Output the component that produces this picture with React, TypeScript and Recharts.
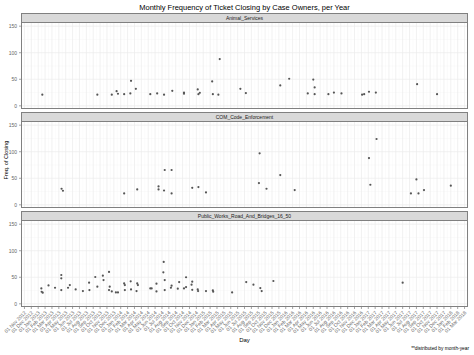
import React from "react";
import {
  ScatterChart,
  Scatter,
  XAxis,
  YAxis,
  ReferenceLine,
} from "recharts";

// tick labels, one per month (index 0 = Nov 2012)
const MONTH_LABELS = [
  "01 Nov 2012", "01 Dec 2012",
  "01 Jan 2013", "01 Feb 2013", "01 Mar 2013", "01 Apr 2013", "01 May 2013", "01 Jun 2013",
  "01 Jul 2013", "01 Aug 2013", "01 Sep 2013", "01 Oct 2013", "01 Nov 2013", "01 Dec 2013",
  "01 Jan 2014", "01 Feb 2014", "01 Mar 2014", "01 Apr 2014", "01 May 2014", "01 Jun 2014",
  "01 Jul 2014", "01 Aug 2014", "01 Sep 2014", "01 Oct 2014", "01 Nov 2014", "01 Dec 2014",
  "01 Jan 2015", "01 Feb 2015", "01 Mar 2015", "01 Apr 2015", "01 May 2015", "01 Jun 2015",
  "01 Jul 2015", "01 Aug 2015", "01 Sep 2015", "01 Oct 2015", "01 Nov 2015", "01 Dec 2015",
  "01 Jan 2016", "01 Feb 2016", "01 Mar 2016", "01 Apr 2016", "01 May 2016", "01 Jun 2016",
  "01 Jul 2016", "01 Aug 2016", "01 Sep 2016", "01 Oct 2016", "01 Nov 2016", "01 Dec 2016",
  "01 Jan 2017", "01 Feb 2017", "01 Mar 2017", "01 Apr 2017", "01 May 2017", "01 Jun 2017",
  "01 Jul 2017", "01 Aug 2017", "01 Sep 2017", "01 Oct 2017", "01 Nov 2017", "01 Dec 2017",
  "01 Jan 2018", "01 Feb 2018", "01 Mar 2018",
];
const MONTH_TICKS = MONTH_LABELS.map((_, i) => i);
const MINOR_X = MONTH_TICKS.map((i) => i + 0.5);
const Y_TICKS = [0, 50, 100, 150];
const MINOR_Y = [25, 75, 125];

// m = months since Nov 2012, v = tickets closed
const animalServices = [
  { m: 2.6, v: 21 }, { m: 10.6, v: 21 }, { m: 12.7, v: 21 }, { m: 13.4, v: 27.6 },
  { m: 13.6, v: 22.7 }, { m: 14.5, v: 22 }, { m: 15.4, v: 23.3 }, { m: 15.5, v: 47 },
  { m: 16.2, v: 32 }, { m: 18.3, v: 22 }, { m: 19.3, v: 23.3 }, { m: 20.3, v: 21 },
  { m: 21.5, v: 28.3 }, { m: 23.2, v: 25 }, { m: 23.2, v: 22.7 }, { m: 25.2, v: 30.8 },
  { m: 25.3, v: 22 }, { m: 25.5, v: 24.5 }, { m: 27.3, v: 46 }, { m: 27.4, v: 22 },
  { m: 28.2, v: 21 }, { m: 28.4, v: 88 }, { m: 31.4, v: 32 }, { m: 32.2, v: 24 },
  { m: 37.2, v: 38.4 }, { m: 38.5, v: 51 }, { m: 41.2, v: 23.3 }, { m: 42, v: 49.5 },
  { m: 42.2, v: 34.6 }, { m: 42.2, v: 22 }, { m: 44.2, v: 22 }, { m: 45, v: 25 },
  { m: 46.1, v: 23.3 }, { m: 49.1, v: 21 }, { m: 49.4, v: 22 }, { m: 50.1, v: 26.5 },
  { m: 51.1, v: 25 }, { m: 57.1, v: 40.8 }, { m: 60, v: 22 },
];

const codeEnforcement = [
  { m: 5.4, v: 30.3 }, { m: 5.6, v: 26.5 }, { m: 14.5, v: 21.4 }, { m: 16.4, v: 29 },
  { m: 19.5, v: 34.6 }, { m: 19.5, v: 29 }, { m: 20.3, v: 27 }, { m: 20.4, v: 65.6 },
  { m: 21.4, v: 65.6 }, { m: 21.4, v: 21.4 }, { m: 24.4, v: 32 }, { m: 25.3, v: 33.4 },
  { m: 26.4, v: 23.3 }, { m: 34.2, v: 97 }, { m: 34.1, v: 41 }, { m: 35.2, v: 30.3 },
  { m: 37.2, v: 56 }, { m: 39.3, v: 27.7 }, { m: 50.1, v: 88 }, { m: 51.2, v: 124 },
  { m: 50.3, v: 37.8 }, { m: 56.2, v: 21.4 }, { m: 57, v: 47.8 }, { m: 57.3, v: 21.4 },
  { m: 58.1, v: 27.7 }, { m: 62, v: 36 },
];

const publicWorks = [
  { m: 2.46, v: 29 }, { m: 2.5, v: 22.7 }, { m: 2.66, v: 20.9 }, { m: 3.5, v: 34.7 },
  { m: 4.45, v: 30.3 }, { m: 5.36, v: 54.3 }, { m: 5.36, v: 48 }, { m: 5.36, v: 25.8 },
  { m: 6.34, v: 30.3 }, { m: 6.6, v: 35.3 }, { m: 7.45, v: 27.1 }, { m: 8.5, v: 24 },
  { m: 9.4, v: 39.8 }, { m: 9.45, v: 25.8 }, { m: 10.3, v: 50.5 }, { m: 10.6, v: 32.3 },
  { m: 11.4, v: 53 }, { m: 11.5, v: 44.8 }, { m: 12.3, v: 60 }, { m: 12.4, v: 32.3 },
  { m: 12.3, v: 25.8 }, { m: 12.7, v: 23.3 }, { m: 13.3, v: 21.4 }, { m: 13.6, v: 21.4 },
  { m: 14.5, v: 38.5 }, { m: 14.6, v: 35.3 }, { m: 14.6, v: 25.8 }, { m: 15.45, v: 42.3 },
  { m: 15.5, v: 27.1 }, { m: 16.4, v: 38.5 }, { m: 16.5, v: 35.3 }, { m: 16.3, v: 24 },
  { m: 18.3, v: 29 }, { m: 18.5, v: 29 }, { m: 19.2, v: 38 }, { m: 19.2, v: 23.3 },
  { m: 20.2, v: 59.4 }, { m: 20.25, v: 79 }, { m: 20.4, v: 44.8 }, { m: 20.4, v: 25.8 },
  { m: 21.3, v: 30.3 }, { m: 21.4, v: 34.2 }, { m: 22.3, v: 28.5 }, { m: 22.5, v: 41 },
  { m: 23.2, v: 29 }, { m: 23.5, v: 50 }, { m: 23.5, v: 31.6 }, { m: 24.3, v: 36 },
  { m: 24.4, v: 41.7 }, { m: 24.4, v: 26.4 }, { m: 25.2, v: 27.1 }, { m: 25.25, v: 24 },
  { m: 26.4, v: 24 }, { m: 27.4, v: 25.2 }, { m: 27.45, v: 22.7 }, { m: 30.2, v: 21.4 },
  { m: 32.25, v: 41 }, { m: 33.3, v: 36 }, { m: 34.3, v: 29.7 }, { m: 34.5, v: 24 },
  { m: 36.2, v: 43 }, { m: 55, v: 39.8 },
];

const FACETS = ["Animal_Services", "COM_Code_Enforcement", "Public_Works_Road_And_Bridges_16_50"];
const FACET_DATA = [animalServices, codeEnforcement, publicWorks];

const FONT = "'Liberation Sans', Arial, sans-serif";
const PLOT_LEFT = 21;
const PLOT_RIGHT = 468;
const STRIP_TOPS = [13, 112, 211];
const STRIP_H = 10;
const PLOT_H = 86;
const X_AXIS_H = 40;

const Dot = (props: any) => <circle cx={props.cx} cy={props.cy} r={1.1} fill="#555555" />;

const XTick = ({ x, y, payload }: any) => (
  <g transform={`translate(${x},${y})`}>
    <text
      x={0}
      y={0}
      dy={3}
      transform="rotate(-45)"
      textAnchor="end"
      fontSize={5}
      fill="#666666"
      fontFamily={FONT}
    >
      {MONTH_LABELS[payload.value]}
    </text>
  </g>
);

const Panel = ({ idx }: { idx: number }) => {
  const last = idx === FACETS.length - 1;
  const top = STRIP_TOPS[idx] + STRIP_H;
  const h = PLOT_H + (last ? X_AXIS_H : 0);
  return (
    <>
      <div
        style={{
          position: "absolute",
          left: PLOT_LEFT,
          top: STRIP_TOPS[idx],
          width: PLOT_RIGHT - PLOT_LEFT,
          height: STRIP_H,
          boxSizing: "border-box",
          background: "#d9d9d9",
          border: "1px solid #808080",
          fontSize: 5,
          lineHeight: `${STRIP_H - 2}px`,
          textAlign: "center",
          color: "#1a1a1a",
        }}
      >
        {FACETS[idx]}
      </div>
      <div style={{ position: "absolute", left: 0, top }}>
        <ScatterChart width={474} height={h} margin={{ top: 0, right: 474 - PLOT_RIGHT, bottom: 0, left: 0 }}>
          <XAxis
            type="number"
            dataKey="m"
            domain={[-0.5, 64.5]}
            ticks={MONTH_TICKS}
            interval={0}
            allowDataOverflow
            hide={!last}
            height={X_AXIS_H}
            tickSize={2}
            axisLine={false}
            tickLine={{ stroke: "#666", strokeWidth: 0.6 }}
            tick={<XTick />}
          />
          <YAxis
            type="number"
            dataKey="v"
            domain={[-6, 156]}
            ticks={Y_TICKS}
            allowDataOverflow
            width={PLOT_LEFT}
            tickSize={2}
            axisLine={false}
            tickLine={{ stroke: "#666", strokeWidth: 0.6 }}
            tick={{ fontSize: 5, fill: "#666666", fontFamily: FONT }}
          />
          {MINOR_X.map((m) => (
            <ReferenceLine key={`mx${m}`} x={m} stroke="#f4f4f4" strokeWidth={0.4} />
          ))}
          {MINOR_Y.map((v) => (
            <ReferenceLine key={`my${v}`} y={v} stroke="#f4f4f4" strokeWidth={0.4} />
          ))}
          {MONTH_TICKS.map((m) => (
            <ReferenceLine key={`x${m}`} x={m} stroke="#ebebeb" strokeWidth={0.7} />
          ))}
          {Y_TICKS.map((v) => (
            <ReferenceLine key={`y${v}`} y={v} stroke="#ebebeb" strokeWidth={0.7} />
          ))}
          <Scatter data={FACET_DATA[idx]} shape={<Dot />} isAnimationActive={false} />
        </ScatterChart>
      </div>
      <div
        style={{
          position: "absolute",
          left: PLOT_LEFT,
          top,
          width: PLOT_RIGHT - PLOT_LEFT,
          height: PLOT_H,
          boxSizing: "border-box",
          border: "1px solid #808080",
          borderTop: "none",
          pointerEvents: "none",
        }}
      />
    </>
  );
};

export default function App() {
  return (
    <div
      style={{
        position: "absolute",
        left: 0,
        top: 0,
        width: 474,
        height: 355,
        background: "#fff",
        fontFamily: FONT,
        overflow: "hidden",
      }}
    >
      <div
        style={{
          position: "absolute",
          left: PLOT_LEFT,
          width: PLOT_RIGHT - PLOT_LEFT,
          top: 3,
          textAlign: "center",
          fontSize: 7.5,
          color: "#000",
        }}
      >
        Monthly Frequency of Ticket Closing by Case Owners, per Year
      </div>
      {FACETS.map((_, i) => (
        <Panel key={i} idx={i} />
      ))}
      <div
        style={{
          position: "absolute",
          left: 6,
          top: 160,
          transform: "translate(-50%, -50%) rotate(-90deg)",
          fontSize: 5.5,
          whiteSpace: "nowrap",
          color: "#000",
        }}
      >
        Freq. of Closing
      </div>
      <div
        style={{
          position: "absolute",
          left: PLOT_LEFT,
          width: PLOT_RIGHT - PLOT_LEFT,
          top: 337,
          textAlign: "center",
          fontSize: 6,
          color: "#000",
        }}
      >
        Day
      </div>
      <div
        style={{
          position: "absolute",
          right: 474 - PLOT_RIGHT - 1,
          top: 346,
          fontSize: 4.8,
          color: "#000",
        }}
      >
        **distributed by month-year
      </div>
    </div>
  );
}
